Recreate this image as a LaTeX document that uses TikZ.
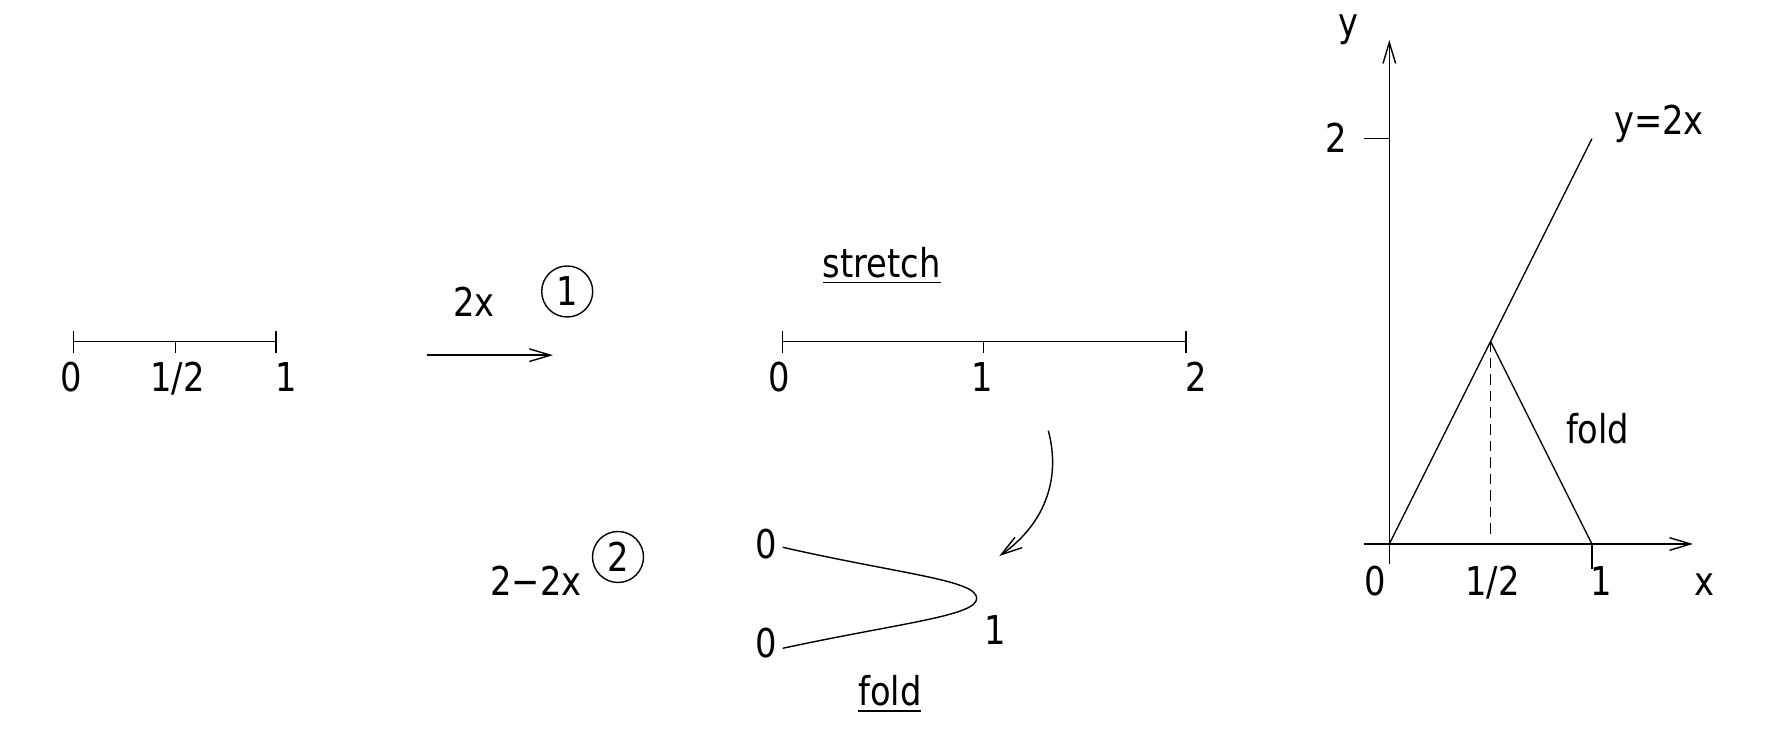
\documentclass[tikz,border=0pt]{standalone}
\usepackage{fontspec}
\setmainfont[FakeStretch=0.85]{DejaVu Sans}
\usetikzlibrary{arrows.meta}
\tikzstyle{maparrow} = [->,>={Straight Barb[length=6pt,width=3.6pt]}]
\tikzstyle{lbl} = [anchor=base,inner sep=0pt,font=\fontsize{11.3}{13}\selectfont]
\tikzstyle{circnum} = [draw,circle,minimum size=0.51cm,inner sep=0pt,font=\fontsize{11.3}{13}\selectfont]

\begin{document}
\begin{tikzpicture}
	\useasboundingbox (0,0) rectangle (17.73,7.34);
	
	% define constants
	\def \ly {3.923}
	\def \lb {3.42}
	\def \tk {0.11}
	
	% First segment
	\draw (0.735,\ly) -- (2.759,\ly);
	\draw (0.735,\ly-\tk) -- (0.735,\ly+\tk);
	\draw (1.753,\ly) -- (1.753,\ly-\tk);
	\draw (2.759,\ly-\tk) -- (2.759,\ly+\tk);
	\node[lbl] (azero) at (0.712,\lb) {0};
	\node[lbl] (ahalf) at (1.775,\lb) {1/2};
	\node[lbl] (aone) at (2.861,\lb) {1};
	
	% Stretch arrow
	\coordinate (sfrom) at (4.274,3.788);
	\coordinate (sto) at (5.529,3.788);
	\draw[maparrow] (sfrom) -- (sto);
	\node[lbl] (twox) at (4.738,4.178) {2x};
	\node[circnum] (stepone) at (5.672,4.425) {1};
	
	% Second segment
	\draw (7.824,\ly) -- (11.861,\ly);
	\draw (7.824,\ly-\tk) -- (7.824,\ly+\tk);
	\draw (9.837,\ly) -- (9.837,\ly-\tk);
	\draw (11.861,\ly-\tk) -- (11.861,\ly+\tk);
	\node[lbl] (bzero) at (7.790,\lb) {0};
	\node[lbl] (bone) at (9.826,\lb) {1};
	\node[lbl] (btwo) at (11.963,\lb) {2};
	\node[lbl] (stretch) at (8.819,4.568) {\underline{stretch}};
	
	% Fold arrow
	\coordinate (ffrom) at (10.483,3.033);
	\coordinate (fto) at (9.993,1.78);
	\draw[maparrow] (ffrom) to[out=-75,in=35] (fto);
	
	% Folded segment
	\draw (7.827,1.867) .. controls (9.0,1.60) and (9.767,1.54) .. (9.767,1.357)
		.. controls (9.767,1.18) and (9.0,1.11) .. (7.827,0.857);
	\node[lbl] (fzeroa) at (7.666,1.758) {0};
	\node[lbl] (fzerob) at (7.666,0.763) {0};
	\node[lbl] (fone) at (9.950,0.899) {1};
	\node[lbl] (foldb) at (8.898,0.283) {\underline{fold}};
	\node[lbl] (twomtwox) at (5.359,1.385) {2−2x};
	\node[circnum] (steptwo) at (6.18,1.77) {2};
	
	% Graph
	\def \ox {13.893}
	\def \oy {1.90}
	\def \u {2.026}
	\coordinate (orig) at (\ox,\oy);
	\coordinate (xend) at (16.93,\oy);
	\coordinate (yend) at (\ox,6.94);
	\coordinate (peak) at (\ox+0.5*\u,\oy+\u);
	\draw[maparrow] (\ox-0.25,\oy) -- (xend);
	\draw[maparrow] (\ox,\oy-0.2) -- (yend);
	\draw (\ox-0.25,\oy+2*\u) -- (\ox,\oy+2*\u);
	\draw (\ox+\u,\oy) -- (\ox+\u,\oy-0.25);
	\draw (orig) -- (\ox+\u,\oy+2*\u);
	\draw (peak) -- (\ox+\u,\oy);
	\draw[dash pattern=on 3pt off 1.7pt] (peak) -- (\ox+0.5*\u,\oy+0.08);
	
	% Graph labels
	\node[lbl] (ylab) at (13.48,6.97) {y};
	\node[lbl] (ytwo) at (13.367,5.813) {2};
	\node[lbl] (xlab) at (17.04,1.38) {x};
	\node[lbl] (gzero) at (13.749,1.38) {0};
	\node[lbl] (ghalf) at (14.925,1.38) {1/2};
	\node[lbl] (gone) at (16.01,1.38) {1};
	\node[lbl] (line) at (16.59,5.99) {y=2x};
	\node[lbl] (foldg) at (15.977,2.906) {fold};
\end{tikzpicture}
\end{document}
